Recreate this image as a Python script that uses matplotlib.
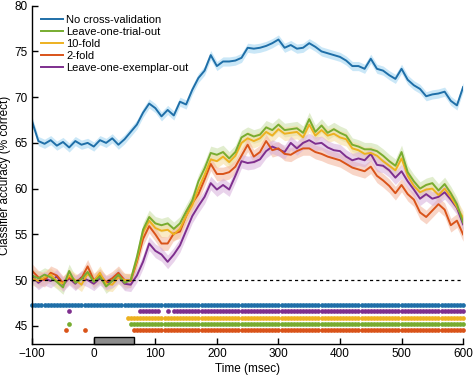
import numpy as np
import matplotlib
matplotlib.use("Agg")
import matplotlib.pyplot as plt
from matplotlib.patches import Rectangle

plt.rcParams['font.family'] = ['Liberation Sans', 'DejaVu Sans']

# ---- data ----
time = np.arange(-100, 601, 10)

no_cv = [67.3, 65.2, 64.9, 65.3, 64.7, 65.1, 64.5, 65.2, 64.8, 65.0,
         64.6, 65.3, 65.0, 65.5, 64.8, 65.4, 66.2, 67.0, 68.3, 69.3,
         68.8, 67.9, 68.6, 68.0, 69.5, 69.2, 70.8, 72.1, 72.9, 74.6,
         73.4, 73.9, 73.9, 74.0, 74.3, 75.4, 75.3, 75.4, 75.6, 75.9,
         76.3, 75.4, 75.7, 75.3, 75.4, 75.9, 75.5, 75.0, 74.8, 74.6,
         74.4, 74.0, 73.4, 73.4, 73.1, 74.2, 73.1, 72.9, 72.4, 72.0,
         73.1, 71.9, 71.3, 70.9, 70.1, 70.3, 70.4, 70.6, 69.6, 69.1,
         71.1]

loto = [50.5, 50.2, 50.6, 50.3, 49.8, 49.2, 51.0, 49.7, 50.1, 50.9,
        49.8, 50.4, 49.3, 49.9, 50.6, 49.7, 50.0, 52.5, 55.5, 56.9,
        56.2, 56.0, 56.2, 55.6, 56.2, 57.5, 58.7, 60.8, 62.2, 63.9,
        63.7, 64.0, 63.3, 64.0, 65.6, 66.0, 65.7, 65.9, 66.7, 66.4,
        67.0, 66.4, 66.5, 66.6, 66.1, 67.6, 66.2, 66.9, 66.1, 66.5,
        66.1, 65.8, 64.8, 64.6, 64.3, 64.3, 64.1, 63.6, 63.0, 62.5,
        64.0, 61.8, 60.8, 60.0, 60.4, 60.6, 59.8, 60.5, 59.5, 58.3,
        56.3]

tenfold = [50.2, 49.9, 50.3, 50.6, 49.9, 49.6, 50.5, 50.0, 49.5, 50.7,
           49.9, 50.8, 49.6, 49.5, 50.3, 50.0, 50.0, 52.2, 55.2, 56.5,
           55.7, 55.4, 55.5, 55.0, 55.6, 57.0, 58.2, 60.0, 61.5, 63.2,
           63.0, 63.5, 62.9, 63.6, 65.0, 65.5, 65.2, 65.5, 66.2, 65.8,
           66.5, 66.0, 66.1, 66.2, 65.6, 67.0, 65.8, 66.4, 65.8, 66.0,
           65.6, 65.4, 64.4, 64.2, 63.8, 63.9, 63.6, 63.0, 62.5, 62.0,
           63.3, 61.4, 60.3, 59.6, 59.9, 60.0, 59.3, 60.0, 59.1, 58.0,
           56.8]

twofold = [51.0, 50.3, 50.0, 50.8, 50.5, 49.7, 50.3, 49.8, 50.2, 51.5,
           50.0, 50.5, 49.8, 50.2, 50.8, 50.0, 49.9, 52.0, 54.5, 55.9,
           55.0, 54.0, 54.0, 55.1, 55.3, 57.0, 58.4, 59.4, 61.0, 62.7,
           61.6, 61.6, 61.8, 62.4, 63.6, 64.8, 63.5, 64.0, 65.2, 64.2,
           64.4, 63.8, 63.7, 64.1, 64.4, 64.4, 64.0, 63.8, 63.5, 63.3,
           63.1, 62.7, 62.3, 62.1, 61.9, 62.4, 61.4, 60.9, 60.3, 59.5,
           60.4, 59.4, 58.8, 57.4, 56.9, 57.6, 58.3, 57.7, 56.0, 56.5,
           55.0]

loeo = [50.4, 49.7, 50.2, 49.9, 50.4, 49.5, 50.2, 49.6, 50.3, 50.0,
        49.6, 50.2, 49.7, 49.9, 50.4, 49.6, 49.5, 50.5, 52.0, 54.0,
        53.2, 52.8, 52.0, 52.8, 53.8, 55.4, 57.0, 58.1, 59.1, 60.6,
        59.9, 60.4, 59.9, 61.4, 63.0, 62.8, 62.9, 63.2, 64.1, 64.6,
        64.3, 64.0, 65.0, 64.4, 65.0, 65.3, 64.9, 65.0, 64.5, 64.2,
        64.1, 63.5, 63.1, 63.3, 63.1, 63.8, 62.6, 62.5, 62.0, 61.2,
        61.9, 60.8, 59.9, 58.9, 59.4, 58.9, 59.1, 59.6, 58.8, 57.9,
        56.1]

# half-width of shaded confidence bands
band_no_cv = 0.5
band_cv = 0.75

labels = ["No cross-validation", "Leave-one-trial-out", "10-fold", "2-fold",
          "Leave-one-exemplar-out"]
series = [no_cv, loto, tenfold, twofold, loeo]
colors = ["#1f6fa8", "#77ac30", "#edb120", "#d95319", "#7e2f8e"]
bands = ["#9fd4f2", "#c9dfa6", "#f7dc9a", "#f3b49a", "#d7b0dc"]

# significance markers: (start, end) intervals in ms, 5 ms bins
sig_time = np.arange(-100, 601, 5)
sig_intervals = {
    "No cross-validation": [(-100, 600)],
    "Leave-one-exemplar-out": [(-40, -40), (75, 105), (120, 120), (130, 600)],
    "10-fold": [(55, 600)],
    "Leave-one-trial-out": [(-40, -40), (60, 600)],
    "2-fold": [(-45, -45), (-15, -15), (65, 600)],
}
sig_rows = {
    "No cross-validation": 47.3,
    "Leave-one-exemplar-out": 46.6,
    "10-fold": 45.9,
    "Leave-one-trial-out": 45.2,
    "2-fold": 44.5,
}
chance = 50
stimulus = (0, 65)

# ---- plot ----
fig = plt.figure(figsize=(4.74, 3.79), dpi=100)
ax = fig.add_axes([0.068, 0.092, 0.909, 0.893])

for lab, s, c, b in zip(labels, series, colors, bands):
    s = np.array(s)
    hw = band_no_cv if lab == labels[0] else band_cv
    ax.fill_between(time, s - hw, s + hw, color=b, alpha=0.55, lw=0)

for lab, s, c in zip(labels[::-1], series[::-1], colors[::-1]):
    ax.plot(time, s, color=c, lw=1.4, label=lab)

ax.axhline(chance, color='black', ls=(0, (2.5, 2.5)), lw=0.9)

for lab, c in zip(labels, colors):
    mask = np.zeros_like(sig_time, dtype=bool)
    for a, bnd in sig_intervals[lab]:
        mask |= (sig_time >= a) & (sig_time <= bnd)
    ax.plot(sig_time[mask], np.full(mask.sum(), sig_rows[lab]), 'o',
            color=c, ms=3.4, mew=0, clip_on=False)

ax.add_patch(Rectangle((stimulus[0], 43), stimulus[1] - stimulus[0], 0.8,
                       facecolor='#8c8c8c', edgecolor='black', lw=1.0,
                       clip_on=False, zorder=5))

ax.set_xlim(-100, 600)
ax.set_ylim(43, 80)
ax.set_xticks(np.arange(-100, 601, 100))
ax.set_yticks(np.arange(45, 81, 5))
ax.tick_params(direction='in', length=4, width=1, labelsize=8.5, pad=3)
for sp in ['top', 'right']:
    ax.spines[sp].set_visible(False)
for sp in ['left', 'bottom']:
    ax.spines[sp].set_linewidth(1.0)

ax.set_xlabel("Time (msec)", fontsize=8.5, labelpad=2)
ax.set_ylabel("Classifier accuracy (% correct)", fontsize=8.5, labelpad=3)

h, l = ax.get_legend_handles_labels()
order = [l.index(x) for x in labels]
ax.legend([h[i] for i in order], [l[i] for i in order], loc='upper left',
          bbox_to_anchor=(0.01, 0.985), frameon=False, fontsize=8,
          handlelength=2.0, handletextpad=0.25, labelspacing=0.18,
          borderaxespad=0.0)

fig.savefig("out.png", dpi=100)
